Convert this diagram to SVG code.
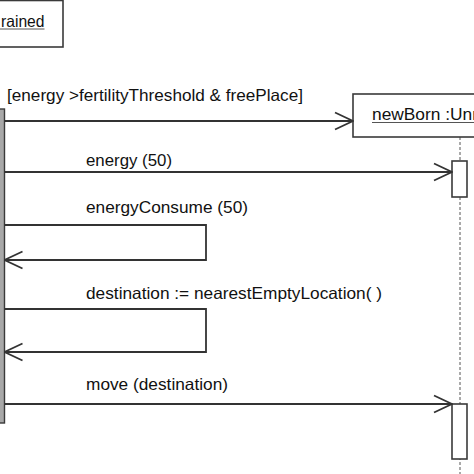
<svg xmlns="http://www.w3.org/2000/svg" width="474" height="474" viewBox="0 0 474 474">
<style>
.t{font-family:"Liberation Sans",Arial,sans-serif;font-size:16.5px;fill:#111}
.box{fill:#fff;stroke:#3a3a3a;stroke-width:1.6}
.msg{fill:none;stroke:#333;stroke-width:1.8}
.life{stroke:#555;stroke-width:1;stroke-dasharray:3 2}
.ul{stroke:#555;stroke-width:1}
</style>
<defs>
<marker id="open" viewBox="0 0 20 20" refX="19" refY="10" markerWidth="20" markerHeight="20" markerUnits="userSpaceOnUse" orient="auto">
<path d="M1,1.5 L19,10 L1,18.5" fill="none" stroke="#333" stroke-width="1.8"/>
</marker>
</defs>
<rect width="474" height="474" fill="#fff"/>
<g id="obj-left">
<rect class="box" x="-10" y="0.5" width="73" height="46.5"/>
<text class="t" x="1" y="27" textLength="43.5" lengthAdjust="spacingAndGlyphs">rained</text>
<line class="ul" x1="0" y1="29" x2="44.5" y2="29"/>
</g>
<g id="obj-newborn">
<line class="life" x1="460" y1="137" x2="460" y2="474"/>
<rect class="box" x="353" y="94" width="130" height="43"/>
<text class="t" x="372" y="120" textLength="106" lengthAdjust="spacingAndGlyphs">newBorn :Unr</text>
<line class="ul" x1="372" y1="122.5" x2="474" y2="122.5"/>
<rect class="box" x="452" y="161" width="15" height="36"/>
<rect class="box" x="452" y="404" width="15" height="55"/>
</g>
<g id="activation-left">
<rect x="-6" y="109" width="10.5" height="314" fill="#a8a8a8" stroke="#3a3a3a" stroke-width="1.4"/>
</g>
<g id="connectors">
<line class="msg" x1="4.5" y1="121" x2="353" y2="121" marker-end="url(#open)"/>
<text class="t" x="7" y="101" textLength="296" lengthAdjust="spacingAndGlyphs">[energy &gt;fertilityThreshold &amp; freePlace]</text>
<line class="msg" x1="4.5" y1="172" x2="452" y2="172" marker-end="url(#open)"/>
<text class="t" x="86" y="166" textLength="86" lengthAdjust="spacingAndGlyphs">energy (50)</text>
<polyline class="msg" points="4.5,225 206,225 206,260 4.5,260" marker-end="url(#open)"/>
<text class="t" x="86" y="213" textLength="162" lengthAdjust="spacingAndGlyphs">energyConsume (50)</text>
<polyline class="msg" points="4.5,309 206,309 206,352 4.5,352" marker-end="url(#open)"/>
<text class="t" x="86" y="299" textLength="296" lengthAdjust="spacingAndGlyphs">destination := nearestEmptyLocation( )</text>
<line class="msg" x1="4.5" y1="404" x2="452" y2="404" marker-end="url(#open)"/>
<text class="t" x="86" y="390" textLength="142" lengthAdjust="spacingAndGlyphs">move (destination)</text>
</g>
</svg>
